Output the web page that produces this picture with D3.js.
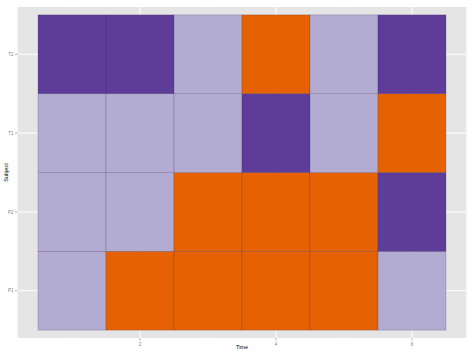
<!DOCTYPE html>
<html>
<head>
<meta charset="utf-8">
<script src="https://cdn.jsdelivr.net/npm/d3@7"></script>
<style>
  body { margin: 0; background: #fff; }
  text { font-family: "Liberation Sans", Arial, sans-serif; }
</style>
</head>
<body>
<script>
'use strict';

// time points on x
const times = [1, 2, 3, 4, 5, 6];
// subjects, bottom to top
const subjects = ["P1", "P2", "T1", "T2"];
const xTicks = [2, 4, 6];

// category per cell, one array per subject (time 1..6)
const rowP1 = ["B", "C", "C", "C", "C", "B"];
const rowP2 = ["B", "B", "C", "C", "C", "A"];
const rowT1 = ["B", "B", "B", "A", "B", "C"];
const rowT2 = ["A", "A", "B", "C", "B", "A"];

const categories = ["A", "B", "C"];
const palette = ["#5e3c99", "#b2abd2", "#e66101"];

const rows = { P1: rowP1, P2: rowP2, T1: rowT1, T2: rowT2 };

const width = 474, height = 355;
const panel = { left: 17.6, right: 466.4, top: 7, bottom: 338 };

const svg = d3.select('body').append('svg')
  .attr('width', width)
  .attr('height', height);

// continuous x with 5% expansion around tile extent
let xScale = d3.scaleLinear()
  .domain([0.2, 6.8])
  .range([panel.left, panel.right]);

// discrete y, 0.6 unit padding each side
let yScale = d3.scaleLinear()
  .domain([0.4, subjects.length + 0.6])
  .range([panel.bottom, panel.top]);

let color = d3.scaleOrdinal().domain(categories).range(palette);

// panel background
svg.append('rect')
  .attr('x', panel.left)
  .attr('y', panel.top)
  .attr('width', panel.right - panel.left)
  .attr('height', panel.bottom - panel.top)
  .attr('fill', '#e5e5e5');

// minor grid
[1, 3, 5].forEach(function(v) {
  svg.append('line')
    .attr('x1', xScale(v)).attr('x2', xScale(v))
    .attr('y1', panel.top).attr('y2', panel.bottom)
    .attr('stroke', '#f2f2f2').attr('stroke-width', 0.5);
});

// major grid
xTicks.forEach(function(v) {
  svg.append('line')
    .attr('x1', xScale(v)).attr('x2', xScale(v))
    .attr('y1', panel.top).attr('y2', panel.bottom)
    .attr('stroke', '#fff').attr('stroke-width', 1);
});
subjects.forEach(function(s, i) {
  svg.append('line')
    .attr('x1', panel.left).attr('x2', panel.right)
    .attr('y1', yScale(i + 1)).attr('y2', yScale(i + 1))
    .attr('stroke', '#fff').attr('stroke-width', 1);
});

// build cells
let cells = [];
subjects.forEach(function(s, i) {
  rows[s].forEach(function(c, j) {
    cells.push({ subject: s, yi: i + 1, time: times[j], cat: c });
  });
});

svg.selectAll('.tile')
  .data(cells)
  .enter()
  .append('rect')
    .attr('class', 'tile')
    .attr('x', function(d) { return xScale(d.time - 0.5); })
    .attr('y', function(d) { return yScale(d.yi + 0.5); })
    .attr('width', xScale(1.5) - xScale(0.5))
    .attr('height', yScale(0.5) - yScale(1.5))
    .attr('fill', function(d) { return color(d.cat); })
    .attr('stroke', 'rgba(60,40,80,0.35)')
    .attr('stroke-width', 0.6);

// x axis ticks and labels
let xAxis = svg.append('g');
xTicks.forEach(function(v) {
  xAxis.append('line')
    .attr('x1', xScale(v)).attr('x2', xScale(v))
    .attr('y1', panel.bottom).attr('y2', panel.bottom + 2.5)
    .attr('stroke', '#7f7f7f').attr('stroke-width', 0.6);
  xAxis.append('text')
    .attr('x', xScale(v))
    .attr('y', panel.bottom + 8)
    .attr('text-anchor', 'middle')
    .style('font-size', '4.5px')
    .attr('fill', '#7f7f7f')
    .text(v);
});

// y axis ticks and labels
let yAxis = svg.append('g');
subjects.forEach(function(s, i) {
  yAxis.append('line')
    .attr('x1', panel.left - 2.5).attr('x2', panel.left)
    .attr('y1', yScale(i + 1)).attr('y2', yScale(i + 1))
    .attr('stroke', '#7f7f7f').attr('stroke-width', 0.6);
  yAxis.append('text')
    .attr('x', panel.left - 4)
    .attr('y', yScale(i + 1) + 1.6)
    .attr('text-anchor', 'end')
    .style('font-size', '4.5px')
    .attr('fill', '#7f7f7f')
    .text(s);
});

// axis titles
svg.append('text')
  .attr('x', (panel.left + panel.right) / 2)
  .attr('y', 349)
  .attr('text-anchor', 'middle')
  .style('font-size', '5.5px')
  .text('Time');

svg.append('text')
  .attr('transform', 'translate(8,' + (panel.top + panel.bottom) / 2 + ')rotate(-90)')
  .attr('text-anchor', 'middle')
  .style('font-size', '5.5px')
  .text('Subject');
</script>
</body>
</html>
